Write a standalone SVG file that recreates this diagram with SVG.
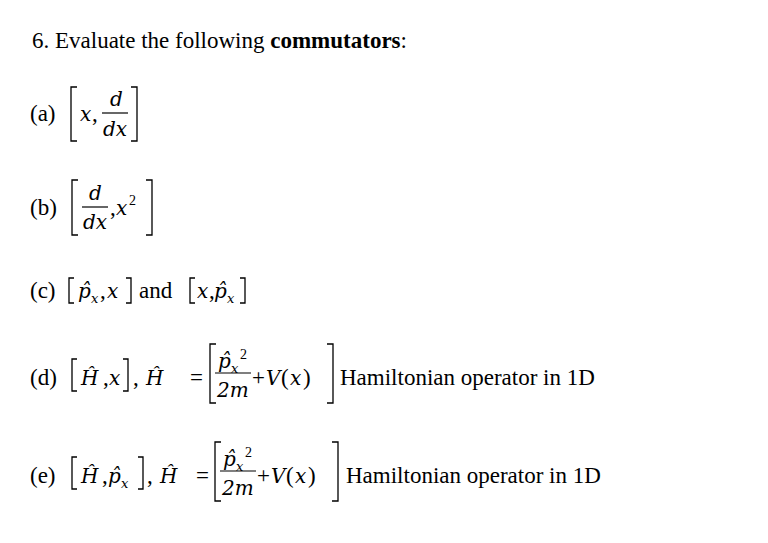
<svg xmlns="http://www.w3.org/2000/svg" width="768" height="543" viewBox="0 0 768 543">
<style>
text{font-family:"Liberation Serif","Times New Roman",serif;fill:#000;font-size:23px}
.i{font-style:italic;font-family:"DejaVu Serif","Liberation Serif",serif;font-size:20px}
.s{font-size:14px}
.sub{font-size:13px;font-style:italic;font-family:"DejaVu Serif","Liberation Serif",serif}
.br{fill:none;stroke:#000;stroke-width:1.3}
.fl{stroke:#000;stroke-width:1.2}
</style>
<rect width="768" height="543" fill="#fff"/>
<text x="32" y="48">6. Evaluate the following <tspan font-weight="bold">commutators</tspan>:</text>
<g id="a">
<text x="30" y="121">(a)</text>
<path class="br" d="M77,87 H71 V141 H77 M131,87 H137 V141 H131"/>
<text x="80" y="121" class="i">x</text><text x="92" y="121">,</text>
<text x="110" y="106" class="i">d</text>
<line class="fl" x1="102" y1="113" x2="128" y2="113"/>
<text x="103" y="136" class="i">dx</text>
</g>
<g id="b">
<text x="30" y="215">(b)</text>
<path class="br" d="M78,180 H72 V235 H78 M146,180 H152 V235 H146"/>
<text x="89" y="200" class="i">d</text>
<line class="fl" x1="82" y1="207" x2="108" y2="207"/>
<text x="83" y="229" class="i">dx</text>
<text x="110" y="215">,</text><text x="116" y="215" class="i">x</text><text x="129" y="205" class="s">2</text>
</g>
<g id="c">
<text x="30" y="298">(c)</text>
<path class="br" d="M74,278 H69 V303 H74 M126,278 H131 V303 H126"/>
<text x="78" y="298" class="i">p̂</text><text x="91" y="303" class="sub">x</text>
<text x="100" y="298">,</text><text x="107" y="298" class="i">x</text>
<text x="139" y="298">and</text>
<path class="br" d="M195,278 H190 V303 H195 M240,278 H245 V303 H240"/>
<text x="197" y="298" class="i">x</text><text x="209" y="298">,</text>
<text x="214" y="298" class="i">p̂</text><text x="227" y="303" class="sub">x</text>
</g>
<g id="d">
<text x="30" y="385">(d)</text>
<path class="br" d="M77,359 H72 V391 H77 M123,359 H128 V391 H123"/>
<text x="81" y="385" class="i">Ĥ</text><text x="103" y="385">,</text><text x="109" y="385" class="i">x</text>
<text x="133" y="385">,</text>
<text x="146" y="385" class="i">Ĥ</text>
<text x="190" y="385" font-size="17">=</text>
<path class="br" d="M216,344 H210 V403 H216 M327,344 H333 V403 H327"/>
<text x="218" y="368" class="i">p̂</text><text x="231" y="373" class="sub">x</text><text x="240" y="359" class="s">2</text>
<line class="fl" x1="215" y1="373" x2="251" y2="373"/>
<text x="217" y="397" class="i">2m</text>
<text x="252" y="385">+</text><text x="266" y="385" class="i">V</text><text x="281" y="385">(</text><text x="290" y="385" class="i">x</text><text x="303" y="385">)</text>
<text x="340" y="385">Hamiltonian operator in 1D</text>
</g>
<g id="e">
<text x="30" y="483">(e)</text>
<path class="br" d="M77,457 H72 V489 H77 M138,457 H143 V489 H138"/>
<text x="81" y="483" class="i">Ĥ</text><text x="102" y="483">,</text>
<text x="108" y="483" class="i">p̂</text><text x="121" y="488" class="sub">x</text>
<text x="147" y="483">,</text>
<text x="160" y="483" class="i">Ĥ</text>
<text x="196" y="483" font-size="17">=</text>
<path class="br" d="M221,442 H215 V501 H221 M332,442 H338 V501 H332"/>
<text x="223" y="466" class="i">p̂</text><text x="236" y="471" class="sub">x</text><text x="245" y="457" class="s">2</text>
<line class="fl" x1="220" y1="471" x2="256" y2="471"/>
<text x="222" y="495" class="i">2m</text>
<text x="257" y="483">+</text><text x="271" y="483" class="i">V</text><text x="286" y="483">(</text><text x="295" y="483" class="i">x</text><text x="308" y="483">)</text>
<text x="346" y="483">Hamiltonian operator in 1D</text>
</g>
</svg>
